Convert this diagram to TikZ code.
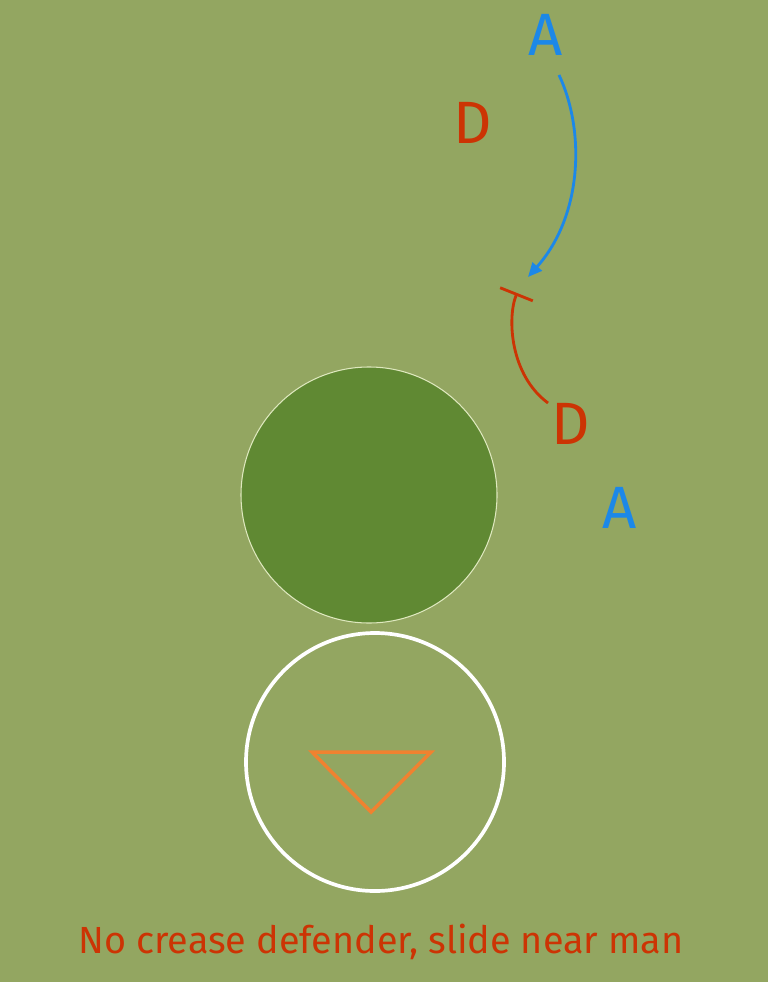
\documentclass[tikz,border=0pt]{standalone}
\usepackage{fontspec}
\setmainfont{Fira Sans}
\usetikzlibrary{arrows.meta}
\definecolor{cField}{RGB}{147,166,97}
\definecolor{cGoal}{RGB}{96,137,51}
\definecolor{cRim}{RGB}{222,232,190}
\definecolor{cRed}{RGB}{204,52,4}
\definecolor{cBlue}{RGB}{28,136,232}
\definecolor{cOrange}{RGB}{240,130,48}

\tikzset{
  attack/.style={text=cBlue, inner sep=0pt, font=\fontsize{34}{36}\selectfont},
  defend/.style={text=cRed, inner sep=0pt, font=\fontsize{34}{36}\selectfont},
  run/.style={cBlue, line width=1.6pt, -{Triangle[length=8pt,width=7pt]}},
  slide/.style={cRed, line width=1.6pt, -{Bar[width=20pt,line width=1.6pt]}}
}

\begin{document}
\begin{tikzpicture}[x=0.02cm,y=-0.02cm]
        \fill[cField] (0,0) rectangle (768,982);
        \useasboundingbox (0,0) rectangle (768,982);

        % goal area and crease
        \draw[cRim, line width=0.6pt, fill=cGoal] (369,495) circle (128);
        \draw[white, line width=2.1pt] (375,762) circle (129);
        \draw[cOrange, line width=2pt, line join=miter] (312,752) -- (431,752) -- (371,812) -- cycle;

        % players
        \node[attack] (aTop) at (546,35) {A};
        \node[defend] (dTop) at (473,123) {D};
        \node[defend] (dLow) at (571,424) {D};
        \node[attack] (aLow) at (620,508) {A};

        \coordinate (aRunStart) at (559,75);
        \coordinate (aRunEnd) at (528,277);
        \coordinate (dSlideStart) at (548,403);
        \coordinate (dSlideEnd) at (517,293);

        \draw[run] (aRunStart) .. controls (585,130) and (583,215) .. (aRunEnd);
        \draw[slide] (dSlideStart) .. controls (510,375) and (507,318) .. (dSlideEnd);

        \node[text=cRed, anchor=base, font=\fontsize{21.5}{24}\selectfont] (note) at (381,953) {No crease defender, slide near man};
\end{tikzpicture}
\end{document}
